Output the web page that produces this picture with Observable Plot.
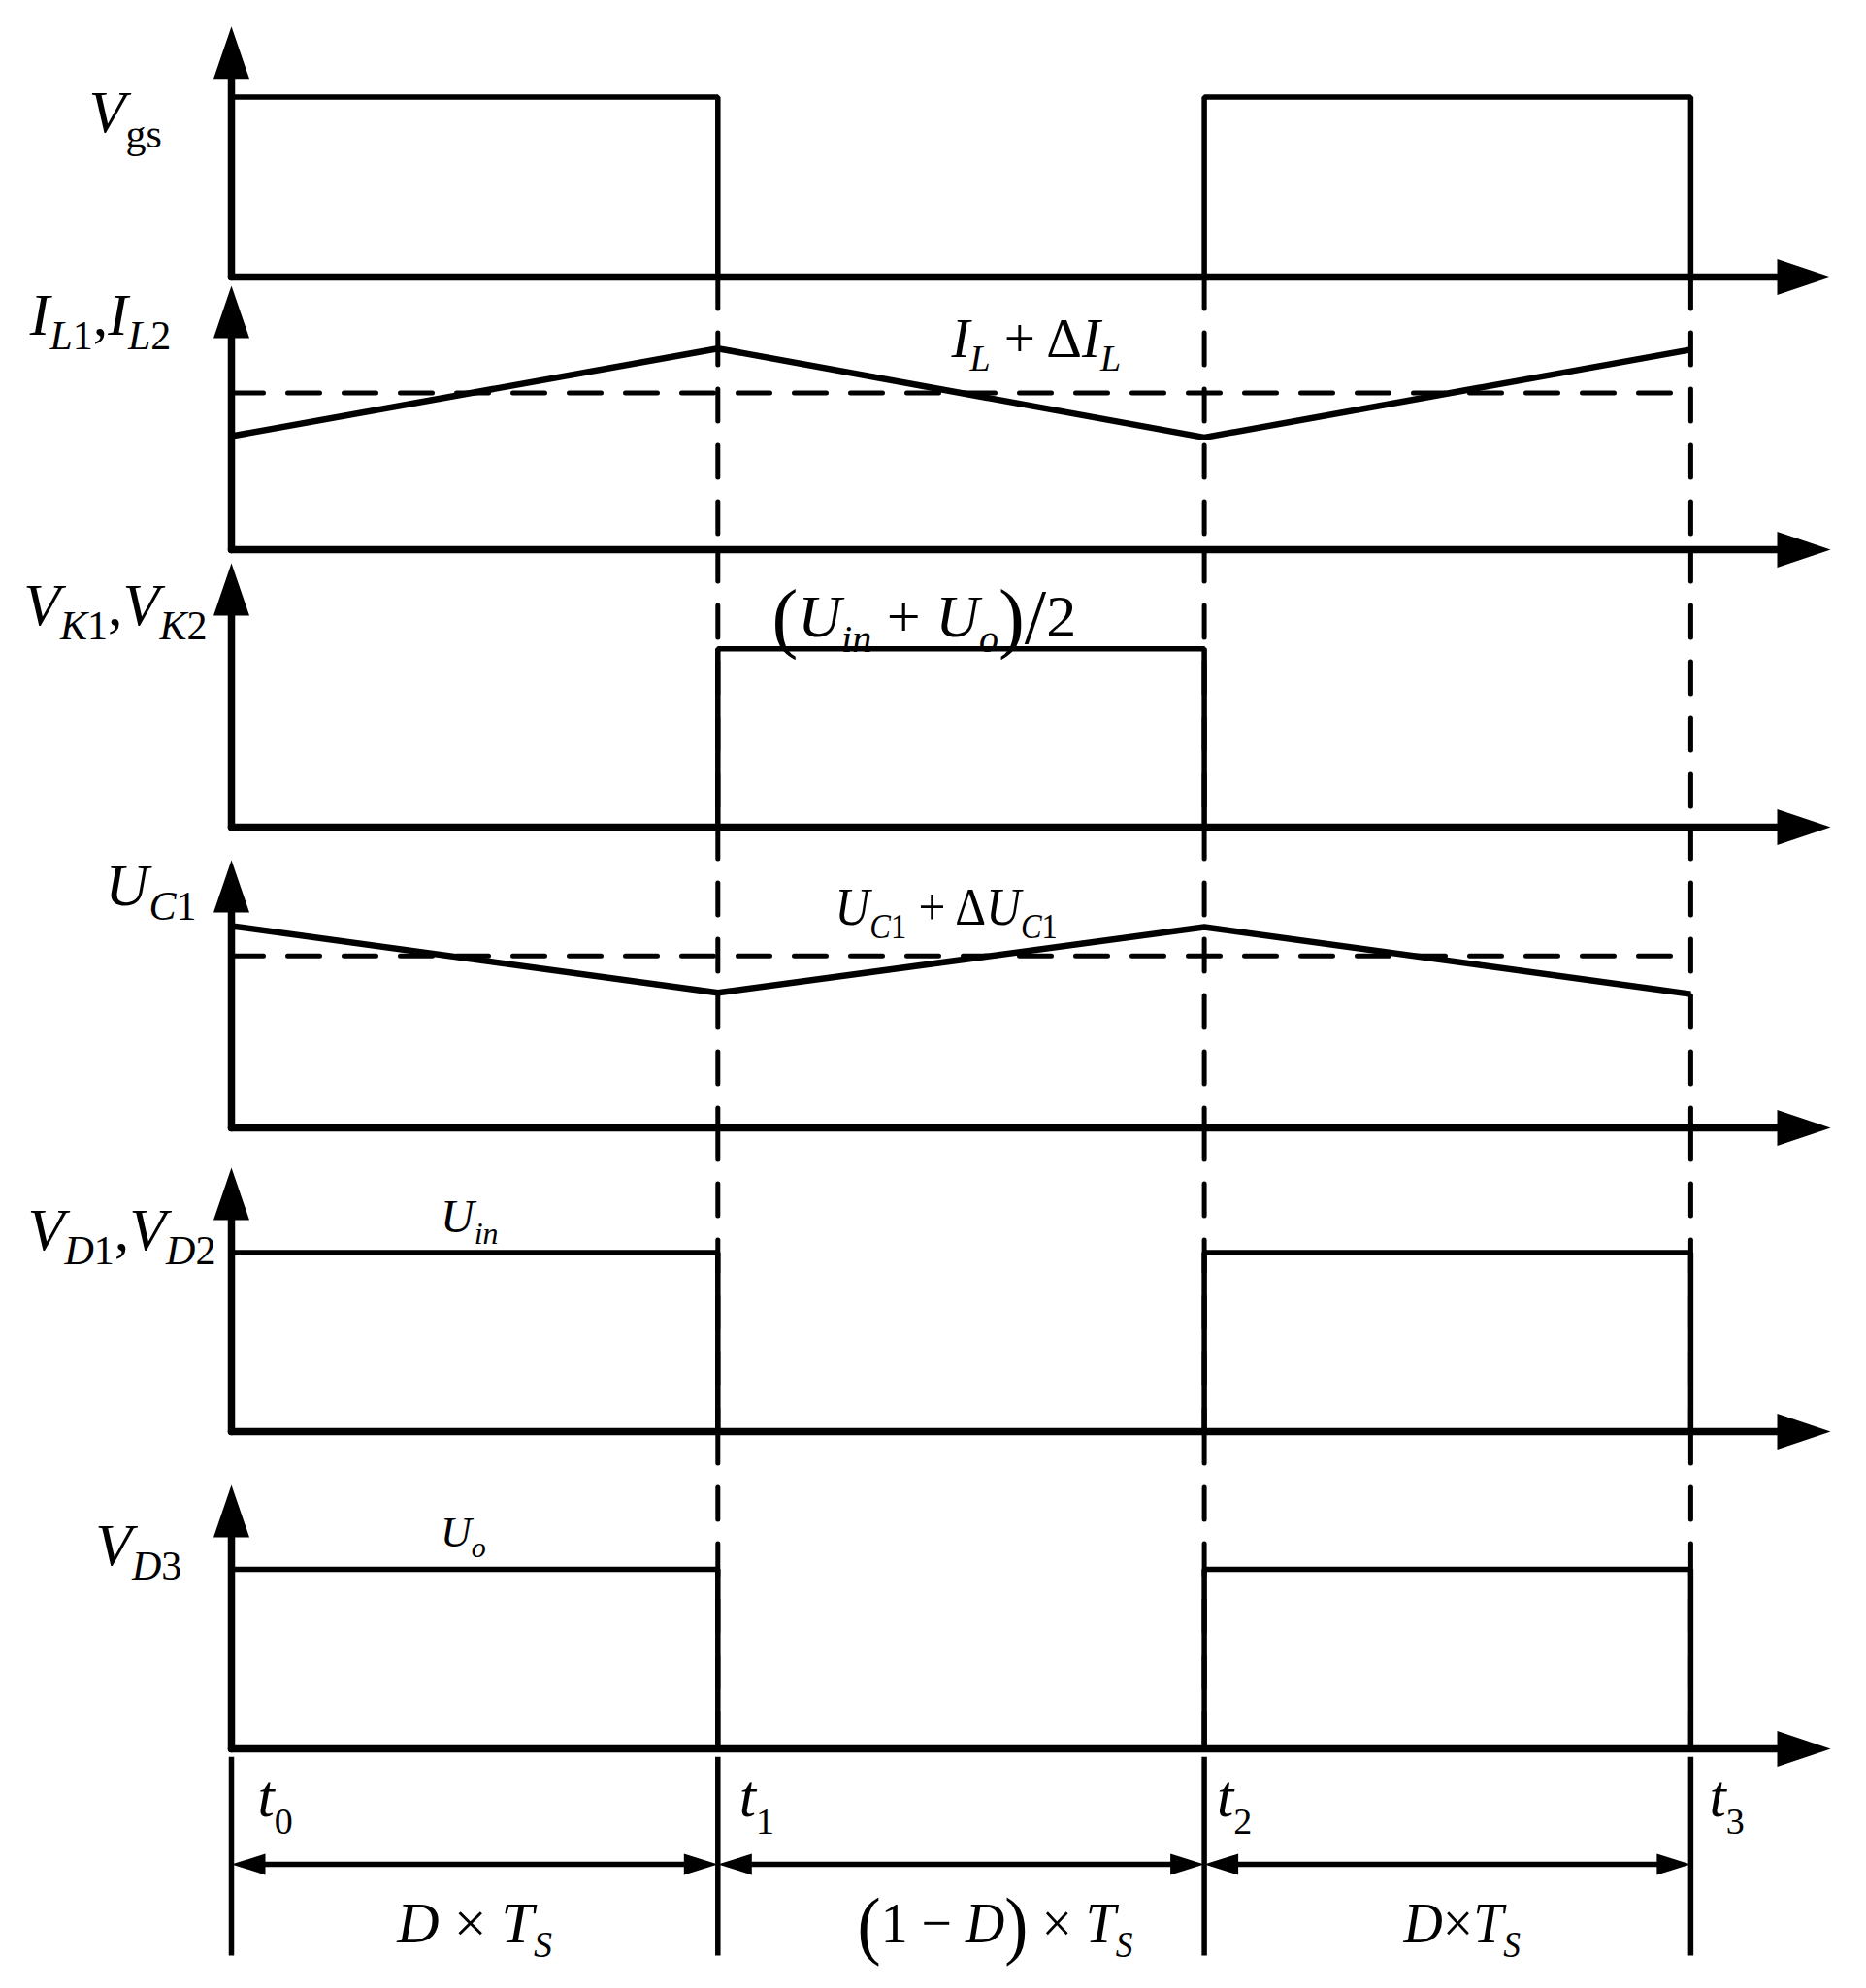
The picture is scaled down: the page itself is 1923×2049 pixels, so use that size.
<!DOCTYPE html>
<html><head><meta charset="utf-8">
<script src="https://cdn.jsdelivr.net/npm/d3@7"></script>
<script src="https://cdn.jsdelivr.net/npm/@observablehq/plot@0.6"></script>
<style>
html,body{margin:0;padding:0;background:#fff;}
#chart{position:relative;width:1923px;height:2049px;overflow:hidden;background:#fff;}
#chart svg{position:absolute;left:0;}
#chart text{white-space:pre;}
</style></head><body><div id="chart"></div>
<script>
// ---------------- data ----------------
const tickTimes = [0, 1, 2, 3];
const tickNames = ["t0", "t1", "t2", "t3"];
const intervalStart = [0, 1, 2];
const intervalEnd = [1, 2, 3];
const intervalNames = ["D × TS", "(1 − D) × TS", "D×TS"];
const panelNames = ["Vgs", "IL1,IL2", "VK1,VK2", "UC1", "VD1,VD2", "VD3"];

const vgsTime = [0, 1, 1, 2, 2, 3, 3];
const vgsLevel = [6.82, 6.82, 0, 0, 6.82, 6.82, 0];

const ilTime = [0, 1, 2, 3];
const ilValue = [4.3, 7.62, 4.25, 7.58];
const ilAverage = 5.94;

const vkTime = [1, 1, 2, 2];
const vkLevel = [0, 6.76, 6.76, 0];

const uc1Time = [0, 1, 2, 3];
const uc1Value = [7.65, 5.12, 7.61, 5.07];
const uc1Average = 6.52;

const vdTime = [0, 1, 1, 2, 2, 3, 3];
const vdLevel = [6.78, 6.78, 0, 0, 6.78, 6.78, 0];

const vd3Time = [0, 1, 1, 2, 2, 3, 3];
const vd3Level = [6.8, 6.8, 0, 0, 6.8, 6.8, 0];

const signalNotes = ["IL+ΔIL", "(Uin+Uo)/2", "UC1+ΔUC1", "Uin", "Uo"];

// ---------------- layout ----------------
const W = 1923;
const X0 = 238, XU = 501.3;          // px of t0, px per switching period step
const YU = 27.2;                      // px per level unit
const FONT = "'Liberation Serif', 'Times New Roman', serif";
const xDomain = [-X0 / XU, (W - X0) / XU];
const axisEnd = (1886 - X0) / XU;
const baselines = [285, 566, 852, 1162, 1475, 1802];
const axisTops = [9.49, 10, 10, 10.15, 10, 10];
const BLACK = "#000";

// label placement (data units of each panel)
const panelLabelPos = [
  {x: -0.143, y: 5.51}, {x: -0.124, y: 8.13}, {x: -0.05, y: 7.68},
  {x: -0.072, y: 8.42}, {x: -0.032, y: 6.91}, {x: -0.102, y: 6.95}
];
const notePos = [
  {panel: 1, x: 1.48, y: 7.28}, {panel: 2, x: 1.111, y: 7.24},
  {panel: 3, x: 1.241, y: 7.72}, {panel: 4, x: 0.43, y: 7.54}, {panel: 5, x: 0.43, y: 7.65}
];
const tickDx = [27, 22, 13, 19];
const intervalShift = [0, 0.07, 0.03];

// rich text (subscripts / italics)
const RICH = new Map([
  ["Vgs", {m: 62, s: 42, d: 16, p: [["V","i"],["gs","sr"]]}],
  ["IL1,IL2", {m: 62, s: 42, d: 15, p: [["I","i"],["L","si"],["1","sr"],[",","r"],["I","i"],["L","si"],["2","sr"]]}],
  ["VK1,VK2", {m: 62, s: 42, d: 15, p: [["V","i"],["K","si"],["1","sr"],[",","r"],["V","i"],["K","si"],["2","sr"]]}],
  ["UC1", {m: 62, s: 42, d: 15, p: [["U","i"],["C","si"],["1","sr"]]}],
  ["VD1,VD2", {m: 62, s: 42, d: 15, p: [["V","i"],["D","si"],["1","sr"],[",","r"],["V","i"],["D","si"],["2","sr"]]}],
  ["VD3", {m: 62, s: 42, d: 15, p: [["V","i"],["D","si"],["3","sr"]]}],
  ["IL+ΔIL", {m: 57, s: 38, d: 14, p: [["I","i"],["L","si"],[" +\u2009Δ","r"],["I","i"],["L","si"]]}],
  ["(Uin+Uo)/2", {m: 62, s: 40, d: 16, p: [["(","p"],["U","i"],["in","si"],[" + ","r"],["U","i"],["o","si"],[")","p"],["/","p"],["2","r"]]}],
  ["UC1+ΔUC1", {m: 55, s: 36, d: 14, sx: 0.9, p: [["U","i"],["C","si"],["1","sr"],[" +\u2009Δ","r"],["U","i"],["C","si"],["1","sr"]]}],
  ["Uin", {m: 48, s: 32, d: 12, p: [["U","i"],["in","si"]]}],
  ["Uo", {m: 44, s: 30, d: 11, p: [["U","i"],["o","si"]]}],
  ["t0", {m: 62, s: 38, d: 18, p: [["t","i"],["0","sr"]]}],
  ["t1", {m: 62, s: 38, d: 18, p: [["t","i"],["1","sr"]]}],
  ["t2", {m: 62, s: 38, d: 18, p: [["t","i"],["2","sr"]]}],
  ["t3", {m: 62, s: 38, d: 18, p: [["t","i"],["3","sr"]]}],
  ["D × TS", {m: 60, s: 38, d: 15, p: [["D","i"],[" × ","r"],["T","i"],["S","si"]]}],
  ["(1 − D) × TS", {m: 60, s: 38, d: 15, sx: 0.93, p: [["(","p"],["1 − ","r"],["D","i"],[")","p"],[" × ","r"],["T","i"],["S","si"]]}],
  ["D×TS", {m: 60, s: 38, d: 15, sx: 0.93, p: [["D","i"],["×","r"],["T","i"],["S","si"]]}]
]);

function esc(s) { return s.replace(/&/g,"&amp;").replace(/</g,"&lt;"); }
function richify(svg) {
  for (const el of svg.querySelectorAll("text")) {
    const spec = RICH.get(el.textContent);
    if (!spec) continue;
    let cur = 0, html = "";
    for (const [str, k] of spec.p) {
      const sub = k === "si" || k === "sr";
      const target = sub ? spec.d : k === "p" ? spec.m * 0.12 : 0;
      const size = k === "p" ? spec.m * 1.3 : sub ? spec.s : spec.m;
      const style = (k === "i" || k === "si") ? "italic" : "normal";
      html += `<tspan dy="${(target - cur).toFixed(2)}" font-size="${size}" font-style="${style}">${esc(str)}</tspan>`;
      cur = target;
    }
    el.innerHTML = html;
    if (spec.sx) {
      const tr = el.getAttribute("transform") || "";
      el.setAttribute("transform", `${tr} scale(${spec.sx},1)`);
    }
  }
}

// arrow head symbols (filled triangles, tip at the data point)
const head = (dir, len, wid) => ({
  draw(ctx) {
    ctx.moveTo(0, 0);
    if (dir === "up") { ctx.lineTo(wid/2, len); ctx.lineTo(-wid/2, len); }
    else if (dir === "right") { ctx.lineTo(-len, wid/2); ctx.lineTo(-len, -wid/2); }
    else { ctx.lineTo(len, wid/2); ctx.lineTo(len, -wid/2); }
    ctx.closePath();
  }
});
const headUp = head("up", 54, 37), headRight = head("right", 55, 37);
const smallLeft = head("left", 35, 22), smallRight = head("right", 35, 22);

const pts = (xs, ys) => xs.map((x, i) => ({x, y: ys[i]}));
const seg = (x1, y1, x2, y2) => ({x1, y1, x2, y2});
const linkOpts = {x1: "x1", y1: "y1", x2: "x2", y2: "y2", stroke: BLACK};

function axes(top) {
  return [
    Plot.link([seg(0, 0, 0, top - 1), seg(0, 0, axisEnd - 0.05, 0)],
      {...linkOpts, strokeWidth: 7.5, strokeLinecap: "round"}),
    Plot.dot([{x: 0, y: top}], {x: "x", y: "y", symbol: headUp, fill: BLACK, stroke: "none"}),
    Plot.dot([{x: axisEnd, y: 0}], {x: "x", y: "y", symbol: headRight, fill: BLACK, stroke: "none"})
  ];
}
const dashedVerticals = () => Plot.ruleX(tickTimes.slice(1), {stroke: BLACK, strokeWidth: 5, strokeDasharray: "33,25", strokeLinecap: "round"});
const signal = (xs, ys, w) => Plot.line(pts(xs, ys), {x: "x", y: "y", stroke: BLACK, strokeWidth: w, strokeLinejoin: "miter", strokeLinecap: "butt"});
const label = (txt, pos, anchor) => Plot.text([{...pos, s: txt}], {x: "x", y: "y", text: "s", textAnchor: anchor, lineAnchor: "bottom", fill: BLACK, fontFamily: FONT, fontSize: 60});

const chart = document.getElementById("chart");
function addPlot(top, height, base, marks) {
  const svg = Plot.plot({
    width: W, height, margin: 0, marginBottom: height - base,
    x: {domain: xDomain, range: [0, W], axis: null},
    y: {domain: [0, 10], range: [base, base - 10 * YU], axis: null},
    style: {background: "transparent", overflow: "visible", fontFamily: FONT, color: BLACK},
    marks
  });
  richify(svg);
  svg.style.top = top + "px";
  chart.appendChild(svg);
}

function panel(i, marks) {
  const top = i === 0 ? 0 : baselines[i - 1];
  const base = baselines[i] - top;
  addPlot(top, base + 24, base, [
    ...(i === 0 ? [] : [dashedVerticals()]),
    ...marks,
    ...axes(axisTops[i]),
    label(panelNames[i], panelLabelPos[i], "end")
  ]);
}
const dashedAvg = (v) => Plot.link([seg(0, v, 3, v)], {...linkOpts, strokeWidth: 5, strokeDasharray: "33,25", strokeLinecap: "round"});
const note = (k, anchor) => label(signalNotes[k], notePos[k], anchor);

panel(0, [signal(vgsTime, vgsLevel, 5.5)]);
panel(1, [dashedAvg(ilAverage), signal(ilTime, ilValue, 6.5), note(0, "start")]);
panel(2, [signal(vkTime, vkLevel, 5.5), note(1, "start")]);
panel(3, [dashedAvg(uc1Average), signal(uc1Time, uc1Value, 6.5), note(2, "start")]);
panel(4, [signal(vdTime, vdLevel, 5.5), note(3, "start")]);
panel(5, [signal(vd3Time, vd3Level, 5.5), note(4, "start")]);

// time annotation strip below the last panel
const arrowY = -4.375, tickTextY = -2.57, intervalTextY = -7.35;
const lastBase = baselines[5];
addPlot(lastBase, 2049 - lastBase, 0, [
  Plot.link(tickTimes.map(t => seg(t, -0.3, t, -7.83)), {...linkOpts, strokeWidth: 5.5}),
  Plot.link(intervalStart.map((a, i) => seg(a + 0.03, arrowY, intervalEnd[i] - 0.03, arrowY)), {...linkOpts, strokeWidth: 5.5}),
  Plot.dot(intervalStart.map(a => ({x: a, y: arrowY})), {x: "x", y: "y", symbol: smallLeft, fill: BLACK, stroke: "none"}),
  Plot.dot(intervalEnd.map(b => ({x: b, y: arrowY})), {x: "x", y: "y", symbol: smallRight, fill: BLACK, stroke: "none"}),
  Plot.text(tickTimes.map((t, i) => ({x: t + tickDx[i] / XU, y: tickTextY, s: tickNames[i]})),
    {x: "x", y: "y", text: "s", textAnchor: "start", lineAnchor: "bottom", fill: BLACK, fontFamily: FONT, fontSize: 60}),
  Plot.text(intervalStart.map((a, i) => ({x: (a + intervalEnd[i]) / 2 + intervalShift[i], y: intervalTextY, s: intervalNames[i]})),
    {x: "x", y: "y", text: "s", textAnchor: "middle", lineAnchor: "bottom", fill: BLACK, fontFamily: FONT, fontSize: 58})
]);
</script></body></html>
